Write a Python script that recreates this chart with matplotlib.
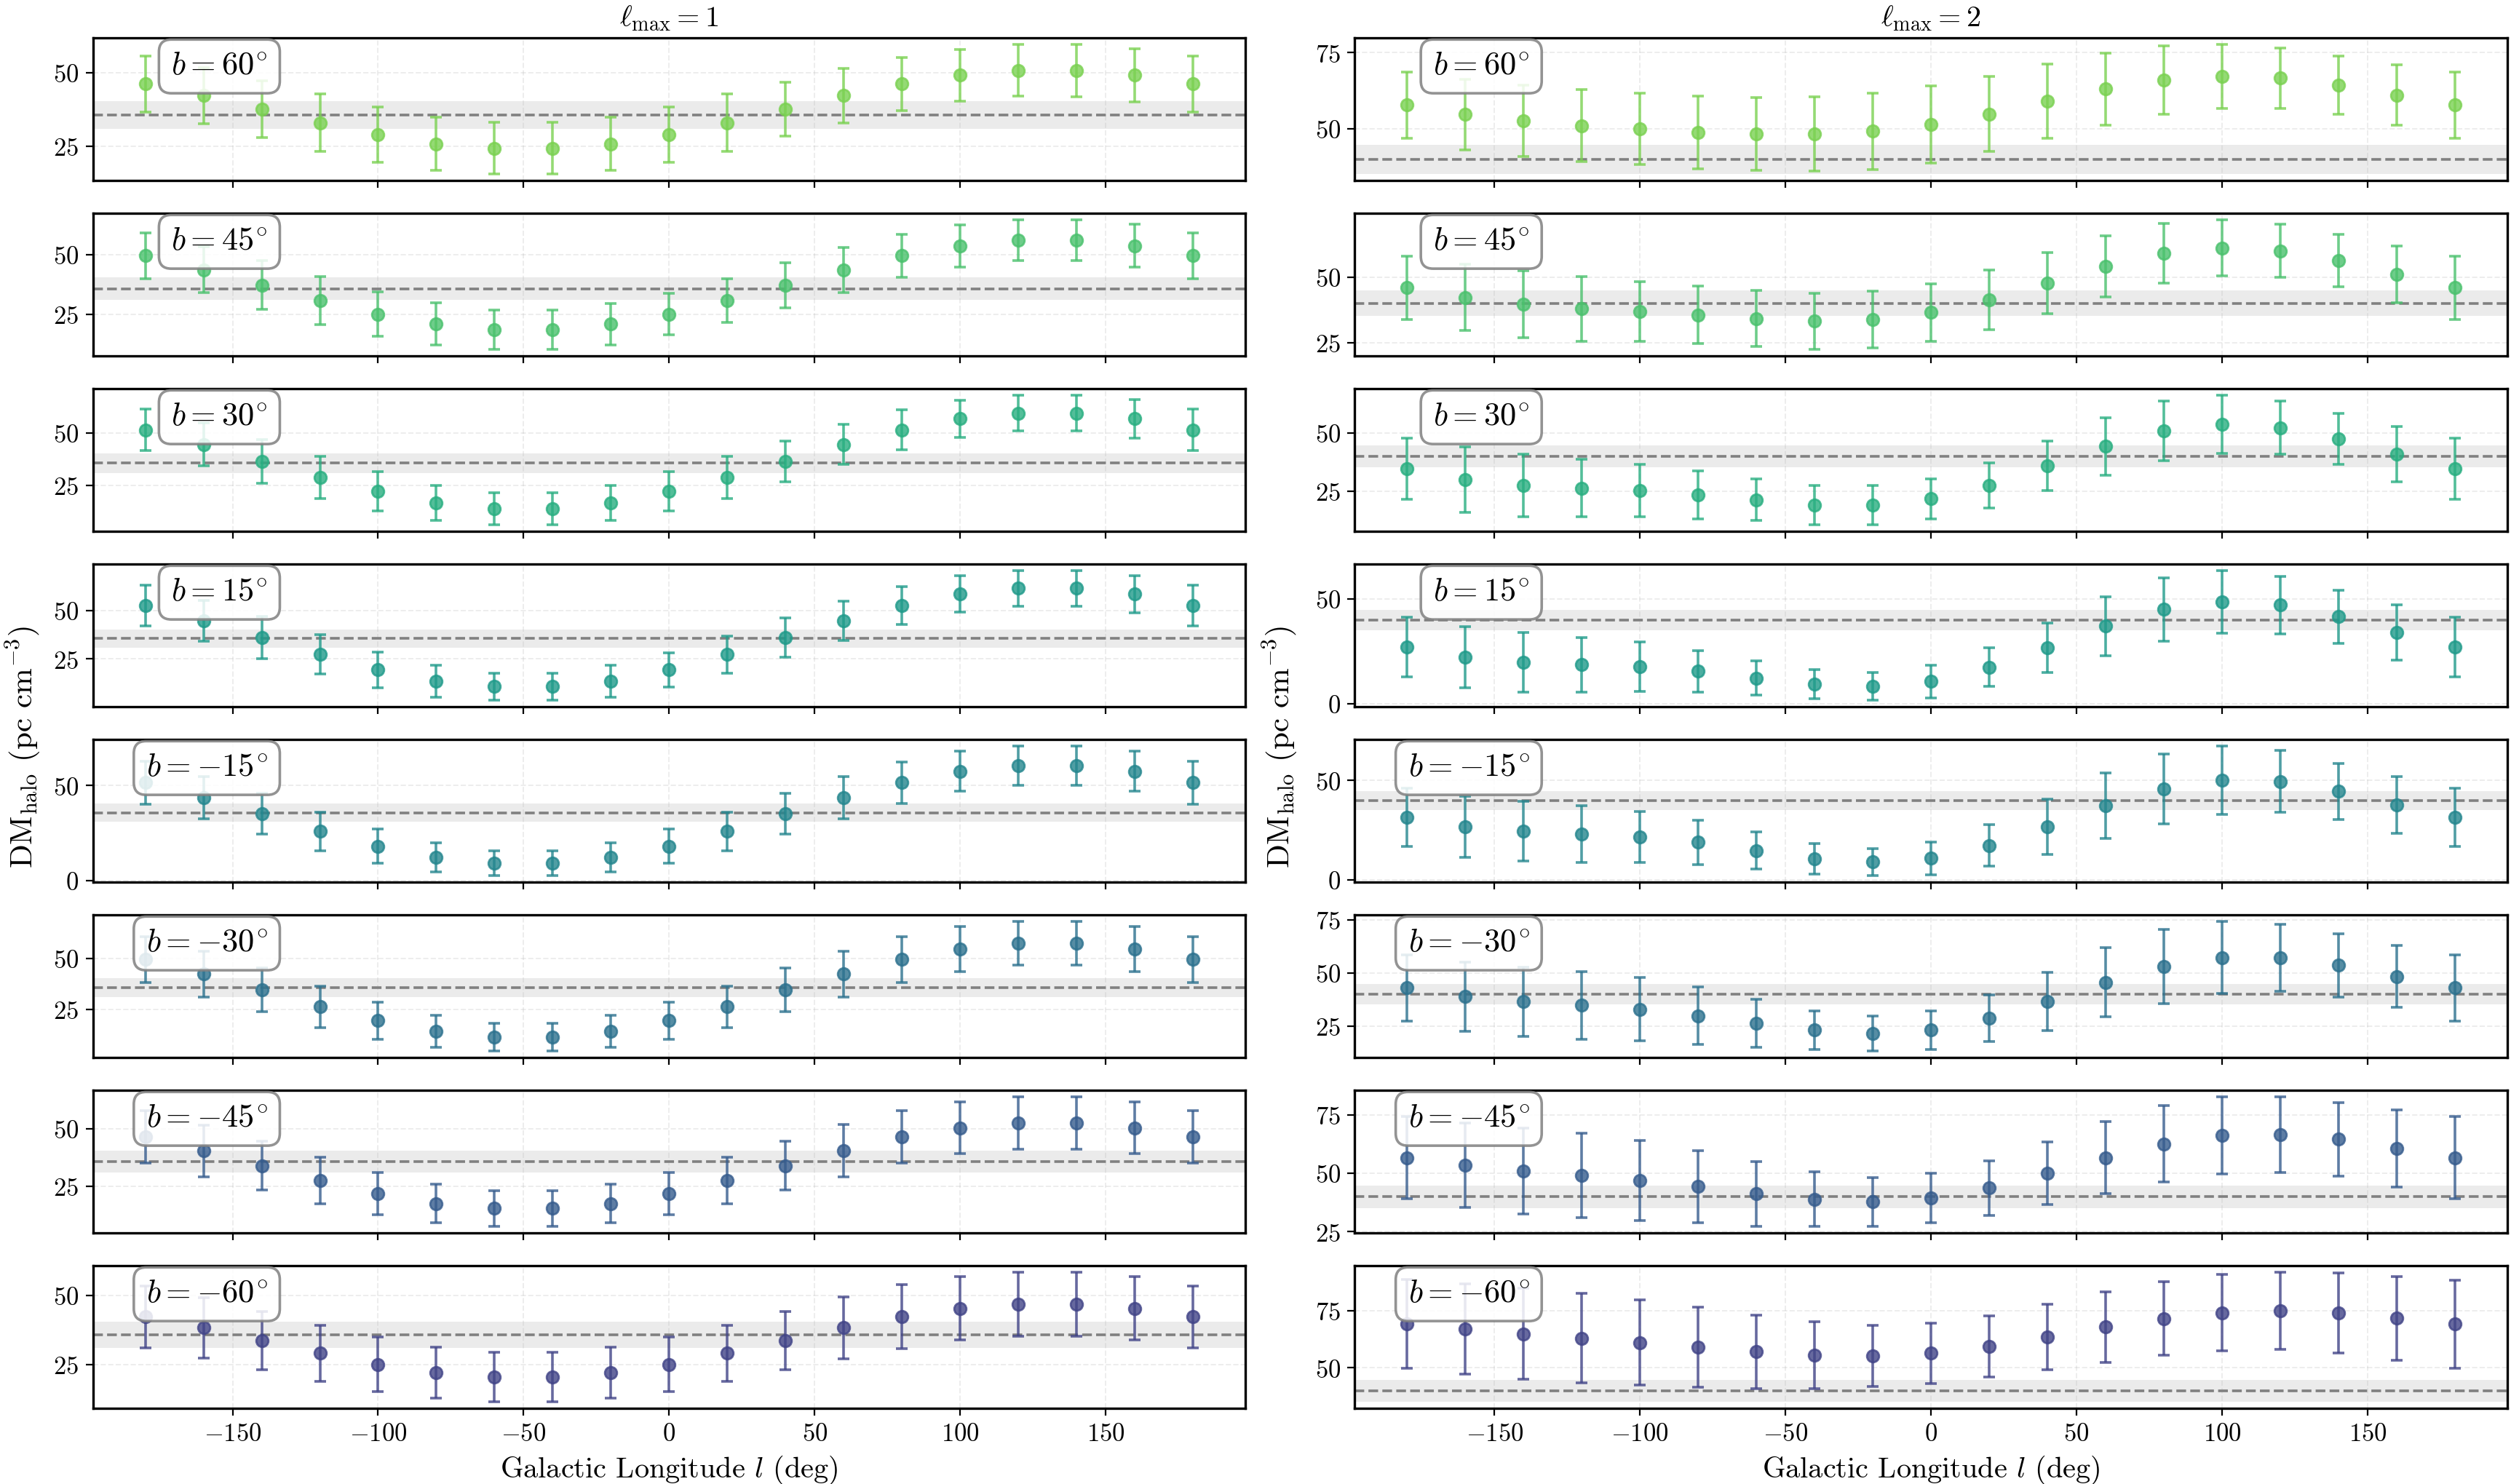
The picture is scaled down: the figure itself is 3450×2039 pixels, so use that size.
import numpy as np
import matplotlib
matplotlib.use("Agg")
import matplotlib.pyplot as plt
from matplotlib.ticker import MaxNLocator
import matplotlib.transforms as mtransforms

plt.rcParams["font.family"] = "serif"
plt.rcParams["font.serif"] = ["cmr10"]
plt.rcParams["mathtext.fontset"] = "cm"
plt.rcParams["axes.formatter.use_mathtext"] = True

# galactic longitude grid (deg)
lon = [-180, -160, -140, -120, -100, -80, -60, -40, -20, 0, 20, 40, 60, 80, 100, 120, 140, 160, 180]
lat = [60, 45, 30, 15, -15, -30, -45, -60]

# lmax = 1
dm1_b60 = [46.2, 42.2, 37.6, 33.0, 29.0, 25.8, 24.3, 24.3, 25.8, 29.0, 33.0, 37.6, 42.2, 46.2, 49.2, 50.8, 50.8, 49.2, 46.2]
er1_b60 = [9.5, 9.5, 9.8, 9.7, 9.4, 9.1, 8.8, 8.8, 9.1, 9.4, 9.7, 9.2, 9.2, 9.0, 8.8, 8.8, 8.9, 9.0, 9.5]
dm1_b45 = [49.5, 43.5, 37.1, 30.7, 25.0, 20.8, 18.5, 18.5, 20.8, 25.0, 30.7, 37.1, 43.5, 49.5, 53.6, 55.9, 55.9, 53.6, 49.5]
er1_b45 = [9.6, 9.6, 10.2, 10.0, 9.4, 8.9, 8.3, 8.3, 8.6, 8.8, 9.2, 9.5, 9.5, 9.0, 8.8, 8.5, 8.6, 9.0, 9.6]
dm1_b30 = [51.5, 44.5, 36.4, 28.7, 22.0, 16.6, 13.7, 13.7, 16.6, 22.0, 28.7, 36.4, 44.5, 51.5, 56.8, 59.5, 59.5, 56.8, 51.5]
er1_b30 = [10.0, 10.4, 10.5, 10.1, 9.4, 8.4, 7.7, 7.7, 8.4, 9.4, 10.0, 9.8, 9.7, 9.6, 9.0, 8.6, 8.6, 9.2, 9.9]
dm1_b15 = [52.6, 44.8, 36.0, 27.3, 19.3, 13.5, 10.6, 10.6, 13.5, 19.3, 27.3, 36.0, 44.8, 52.6, 58.6, 61.5, 61.5, 58.6, 52.6]
er1_b15 = [10.4, 10.6, 10.8, 10.2, 9.3, 8.2, 7.0, 7.0, 8.2, 8.9, 9.6, 10.2, 10.2, 9.9, 9.4, 9.2, 9.2, 9.6, 10.4]
dm1_bm15 = [51.5, 43.6, 35.3, 25.8, 18.0, 12.1, 9.0, 9.0, 12.1, 18.0, 25.8, 35.3, 43.6, 51.5, 57.5, 60.6, 60.6, 57.5, 51.5]
er1_bm15 = [11.2, 11.3, 10.8, 10.3, 9.1, 7.7, 6.5, 6.5, 7.7, 9.1, 10.3, 10.7, 11.1, 11.0, 10.6, 10.3, 10.3, 10.6, 11.2]
dm1_bm30 = [49.5, 42.4, 34.6, 26.3, 19.4, 14.2, 11.4, 11.4, 14.2, 19.4, 26.3, 34.6, 42.4, 49.5, 54.6, 57.5, 57.5, 54.6, 49.5]
er1_bm30 = [11.3, 11.2, 10.9, 10.2, 9.0, 7.9, 6.9, 6.9, 7.9, 9.0, 10.2, 10.9, 11.2, 11.4, 11.2, 10.8, 10.8, 11.2, 11.4]
dm1_bm45 = [46.5, 40.4, 34.0, 27.5, 21.8, 17.5, 15.3, 15.3, 17.5, 21.8, 27.5, 34.0, 40.4, 46.5, 50.4, 52.6, 52.6, 50.4, 46.5]
er1_bm45 = [11.3, 11.3, 10.7, 10.0, 9.2, 8.3, 7.8, 7.8, 8.3, 9.2, 10.0, 10.7, 11.4, 11.4, 11.3, 11.4, 11.4, 11.3, 11.4]
dm1_bm60 = [42.2, 38.2, 33.6, 29.0, 25.0, 22.0, 20.4, 20.4, 22.0, 25.0, 29.0, 33.6, 38.2, 42.2, 45.3, 46.8, 46.8, 45.3, 42.2]
er1_bm60 = [11.2, 11.0, 10.6, 10.2, 9.8, 9.2, 9.0, 9.0, 9.2, 9.8, 10.2, 10.6, 11.2, 11.6, 11.5, 11.6, 11.6, 11.5, 11.2]

# lmax = 2
dm2_b60 = [57.8, 54.7, 52.6, 51.0, 50.0, 48.9, 48.3, 48.3, 49.2, 51.4, 54.9, 59.1, 63.1, 66.0, 67.2, 66.6, 64.3, 61.1, 57.8]
er2_b60 = [10.9, 11.5, 11.7, 11.8, 11.7, 11.9, 12.0, 12.1, 12.5, 12.7, 12.4, 12.1, 11.8, 11.1, 10.5, 9.8, 9.6, 10.0, 10.9]
dm2_b45 = [46.0, 42.2, 39.7, 38.0, 37.0, 35.6, 34.2, 33.2, 33.8, 36.5, 41.3, 47.6, 54.1, 59.1, 61.1, 59.9, 56.2, 51.1, 46.0]
er2_b45 = [12.0, 12.6, 12.7, 12.3, 11.3, 11.0, 10.6, 10.7, 10.8, 10.9, 11.4, 11.6, 11.6, 11.3, 10.7, 10.1, 10.0, 10.8, 12.0]
dm2_b30 = [34.7, 29.9, 27.5, 26.3, 25.3, 23.3, 21.2, 19.0, 18.9, 21.7, 27.5, 35.8, 44.2, 50.9, 53.8, 52.3, 47.4, 41.0, 34.7]
er2_b30 = [13.1, 14.0, 13.5, 12.4, 11.2, 10.4, 8.9, 8.5, 8.4, 8.7, 9.7, 10.7, 12.3, 12.8, 12.5, 11.4, 11.0, 11.9, 13.1]
dm2_b15 = [27.1, 22.2, 19.8, 18.7, 17.7, 15.6, 12.3, 9.3, 8.3, 10.6, 17.4, 26.8, 37.0, 45.0, 48.7, 47.1, 41.6, 34.1, 27.1]
er2_b15 = [14.3, 14.7, 14.1, 13.0, 11.7, 9.9, 8.3, 6.9, 6.6, 7.7, 9.2, 11.7, 14.0, 15.2, 14.9, 13.8, 12.6, 13.1, 14.3]
dm2_bm15 = [31.4, 26.8, 24.4, 23.0, 21.7, 18.9, 14.8, 10.8, 9.0, 10.9, 17.4, 26.8, 37.4, 45.9, 50.2, 49.5, 44.5, 37.7, 31.4]
er2_bm15 = [14.7, 15.3, 15.0, 14.2, 12.9, 11.3, 9.3, 7.7, 6.8, 8.2, 10.6, 13.8, 16.4, 17.6, 17.2, 15.5, 14.0, 14.2, 14.7]
dm2_bm30 = [43.0, 39.0, 36.5, 34.9, 33.0, 30.0, 26.3, 23.2, 21.6, 23.2, 28.7, 36.8, 45.7, 53.2, 57.3, 57.3, 53.6, 48.4, 43.0]
er2_bm30 = [15.6, 16.2, 16.4, 15.9, 14.9, 13.5, 11.3, 9.0, 8.2, 9.0, 11.0, 13.7, 16.2, 17.4, 17.0, 15.7, 15.0, 14.6, 15.6]
dm2_bm45 = [56.7, 53.5, 51.0, 49.1, 47.0, 44.3, 41.2, 38.9, 37.8, 39.4, 43.7, 50.0, 56.7, 62.6, 66.1, 66.5, 64.5, 60.6, 56.7]
er2_bm45 = [17.5, 18.1, 18.4, 18.1, 17.1, 15.5, 13.9, 11.6, 10.5, 10.5, 11.6, 13.4, 15.3, 16.3, 16.5, 16.2, 15.8, 16.5, 17.5]
dm2_bm60 = [69.1, 66.9, 64.9, 63.0, 61.0, 59.0, 57.0, 55.5, 55.3, 56.4, 59.4, 63.4, 67.8, 71.6, 74.1, 75.0, 73.9, 71.7, 69.1]
er2_bm60 = [19.4, 19.7, 19.9, 19.5, 18.6, 17.4, 16.0, 14.6, 13.4, 13.2, 13.4, 14.3, 15.3, 16.2, 16.7, 16.8, 17.5, 18.3, 19.2]

# reference halo value (mean, std) for each lmax
ref_mean = [35.6, 40.0]
ref_std = [4.75, 4.8]

cols = [
    [(dm1_b60, er1_b60), (dm1_b45, er1_b45), (dm1_b30, er1_b30), (dm1_b15, er1_b15),
     (dm1_bm15, er1_bm15), (dm1_bm30, er1_bm30), (dm1_bm45, er1_bm45), (dm1_bm60, er1_bm60)],
    [(dm2_b60, er2_b60), (dm2_b45, er2_b45), (dm2_b30, er2_b30), (dm2_b15, er2_b15),
     (dm2_bm15, er2_bm15), (dm2_bm30, er2_bm30), (dm2_bm45, er2_bm45), (dm2_bm60, er2_bm60)],
]

colors = plt.cm.viridis(np.linspace(0.8, 0.2, len(lat)))

fig, axes = plt.subplots(8, 2, figsize=(17.25, 10.2), dpi=200, sharex=True)
fig.subplots_adjust(left=0.037, right=0.9985, top=0.974, bottom=0.051, hspace=0.23, wspace=0.095)

for j in range(2):
    for i in range(len(lat)):
        ax = axes[i, j]
        dm, er = cols[j][i]
        ax.axhspan(ref_mean[j] - ref_std[j], ref_mean[j] + ref_std[j], color="lightgray", alpha=0.45, lw=0)
        ax.axhline(ref_mean[j], color="gray", ls="--", lw=1.3)
        ax.errorbar(lon, dm, yerr=er, fmt="o", color=colors[i], alpha=0.8,
                    markersize=6, capsize=3, elinewidth=1.3, capthick=1.3, zorder=3)
        ax.grid(True, ls="--", alpha=0.22, lw=0.7)
        ax.yaxis.set_major_locator(MaxNLocator(2, steps=[1, 2, 2.5, 5, 10]))
        ax.tick_params(labelsize=12.5)
        for s in ax.spines.values():
            s.set_linewidth(1.2)
        trans = mtransforms.blended_transform_factory(ax.transData, ax.transAxes)
        ax.text(-138, 0.80, r"$b = %d^{\!\circ}$" % lat[i], transform=trans, ha="right", va="center",
                fontsize=16, zorder=5,
                bbox=dict(boxstyle="round,pad=0.38", facecolor="white", edgecolor="gray", alpha=0.85, lw=1.3))
    axes[-1, j].set_xlabel(r"Galactic Longitude $l$ (deg)", fontsize=14.5)
    axes[0, j].set_title(r"$\ell_{\rm max} = %d$" % (j + 1), fontsize=14.5)

axes[-1, 0].set_xticks([-150, -100, -50, 0, 50, 100, 150])

fig.text(0.0095, 0.497, r"DM$_{\rm halo}$ (pc cm$^{-3}$)", rotation=90, va="center", ha="center", fontsize=15.5)
fig.text(0.51, 0.497, r"DM$_{\rm halo}$ (pc cm$^{-3}$)", rotation=90, va="center", ha="center", fontsize=15.5)

fig.savefig("out.png", dpi=200)
